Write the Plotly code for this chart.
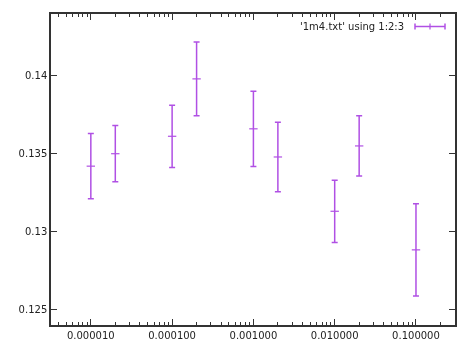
import plotly.graph_objects as go

x_vals = [1e-5, 2e-5, 1e-4, 2e-4, 1e-3, 2e-3, 1e-2, 2e-2, 1e-1]
y_vals = [0.13420, 0.13500, 0.13612, 0.13981, 0.13660, 0.13479, 0.13130, 0.13550, 0.12882]
y_err = [0.00210, 0.00181, 0.00200, 0.00237, 0.00242, 0.00223, 0.00200, 0.00194, 0.00296]

x_ticks = [1e-5, 1e-4, 1e-3, 1e-2, 1e-1]
x_tick_text = ["0.000010", "0.000100", "0.001000", "0.010000", "0.100000"]
x_minor_ticks = [m * 10.0 ** e for e in range(-6, 0) for m in range(2, 10)]
y_ticks = [0.125, 0.13, 0.135, 0.14]
y_tick_text = ["0.125", "0.13", "0.135", "0.14"]
legend_label = "'1m4.txt' using 1:2:3"

color = "#b050e4"
axis_color = "#333333"
font = dict(family="DejaVu Sans", size=10, color="#222222")
x_range = [-5.49, -0.52]
y_range = [0.12399, 0.14398]

fig = go.Figure()
fig.add_trace(go.Scatter(
    x=x_vals, y=y_vals, mode="markers",
    marker=dict(symbol="line-ew", size=6, line=dict(color=color, width=1.2)),
    error_y=dict(type="data", array=y_err, symmetric=True, color=color,
                 thickness=1.5, width=3),
    showlegend=False,
))
# invisible copy to activate the mirrored top axis
fig.add_trace(go.Scatter(
    x=x_vals, y=y_vals, mode="markers", xaxis="x2", yaxis="y", opacity=0,
    marker=dict(size=1), showlegend=False, hoverinfo="skip",
))

# legend drawn manually (gnuplot style)
fig.add_annotation(xref="paper", yref="paper", x=(406 - 51) / 404, y=(325 - 26.5) / 311,
                   text=legend_label, showarrow=False, xanchor="right", yanchor="middle",
                   font=font)
lx0, lx1, ly = (415 - 51) / 404, (445 - 51) / 404, (325 - 26.5) / 311
fig.add_shape(type="line", xref="paper", yref="paper", x0=lx0, x1=lx1, y0=ly, y1=ly,
              line=dict(color=color, width=1.5))
for xx in [lx0, lx1]:
    fig.add_shape(type="line", xref="paper", yref="paper", x0=xx, x1=xx,
                  y0=ly - 3 / 311, y1=ly + 3 / 311, line=dict(color=color, width=1.5))
xm = (lx0 + lx1) / 2
fig.add_shape(type="line", xref="paper", yref="paper", x0=xm, x1=xm,
              y0=ly - 3 / 311, y1=ly + 3 / 311, line=dict(color=color, width=1.2))

xaxis_common = dict(
    type="log", range=x_range,
    tickvals=x_ticks,
    ticks="inside", ticklen=6, tickwidth=1, tickcolor=axis_color,
    showline=True, linecolor=axis_color, linewidth=1.5, mirror=False,
    showgrid=False, zeroline=False,
    minor=dict(tickvals=x_minor_ticks, ticks="inside", ticklen=3, tickwidth=1,
               tickcolor=axis_color, showgrid=False),
)

fig.update_layout(
    width=474, height=352,
    margin=dict(l=51, r=19, t=14, b=27),
    paper_bgcolor="white", plot_bgcolor="white",
    font=font,
    showlegend=False,
    xaxis=dict(**xaxis_common, ticktext=x_tick_text),
    xaxis2=dict(**xaxis_common, overlaying="x", side="top", showticklabels=False,
                anchor="y"),
    yaxis=dict(
        range=y_range, tickvals=y_ticks, ticktext=y_tick_text,
        ticks="inside", ticklen=6, tickwidth=1, tickcolor=axis_color,
        showline=True, linecolor=axis_color, linewidth=1.5, mirror="ticks",
        showgrid=False, zeroline=False,
    ),
)

fig.write_html("out.html")
